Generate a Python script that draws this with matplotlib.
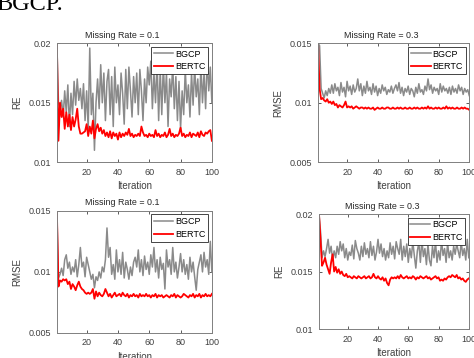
import numpy as np
import matplotlib.pyplot as plt
from matplotlib.ticker import FuncFormatter

plt.rcParams['font.family'] = ['Liberation Sans', 'DejaVu Sans']

iters = np.arange(1, 101)

# panel 1: RE, missing rate 0.1
bgcp_re_01 = [0.0200, 0.0150, 0.0145, 0.0152, 0.0138, 0.0160, 0.0142, 0.0165, 0.0130, 0.0158,
              0.0140, 0.0168, 0.0148, 0.0170, 0.0152, 0.0162, 0.0145, 0.0166, 0.0135, 0.0160,
              0.0128, 0.0196, 0.0140, 0.0158, 0.0110, 0.0150, 0.0170, 0.0145, 0.0182, 0.0150,
              0.0175, 0.0135, 0.0168, 0.0178, 0.0140, 0.0172, 0.0130, 0.0180, 0.0150, 0.0165,
              0.0140, 0.0175, 0.0158, 0.0132, 0.0178, 0.0145, 0.0180, 0.0160, 0.0138, 0.0172,
              0.0150, 0.0175, 0.0140, 0.0178, 0.0160, 0.0135, 0.0170, 0.0150, 0.0180, 0.0165,
              0.0185, 0.0145, 0.0175, 0.0150, 0.0185, 0.0135, 0.0178, 0.0140, 0.0182, 0.0150,
              0.0175, 0.0130, 0.0170, 0.0155, 0.0182, 0.0145, 0.0172, 0.0135, 0.0168, 0.0128,
              0.0160, 0.0140, 0.0178, 0.0150, 0.0165, 0.0138, 0.0175, 0.0148, 0.0180, 0.0155,
              0.0170, 0.0140, 0.0182, 0.0150, 0.0175, 0.0145, 0.0188, 0.0160, 0.0180, 0.0150]
bertc_re_01 = [0.0200, 0.0118, 0.0150, 0.0138, 0.0145, 0.0128, 0.0142, 0.0130, 0.0140, 0.0127,
               0.0138, 0.0130, 0.0136, 0.0145, 0.0130, 0.0124, 0.0124, 0.0125, 0.0126, 0.0132,
               0.0122, 0.0130, 0.0124, 0.0135, 0.0120, 0.0128, 0.0132, 0.0126, 0.0129, 0.0124,
               0.0127, 0.0122, 0.0125, 0.0121, 0.0126, 0.0120, 0.0125, 0.0122, 0.0124, 0.0119,
               0.0125, 0.0121, 0.0124, 0.0122, 0.0125, 0.0123, 0.0128, 0.0122, 0.0124, 0.0121,
               0.0123, 0.0122, 0.0124, 0.0122, 0.0130, 0.0125, 0.0122, 0.0123, 0.0121, 0.0124,
               0.0122, 0.0123, 0.0121, 0.0127, 0.0122, 0.0124, 0.0121, 0.0123, 0.0122, 0.0125,
               0.0121, 0.0123, 0.0128, 0.0122, 0.0124, 0.0121, 0.0123, 0.0122, 0.0124, 0.0129,
               0.0122, 0.0124, 0.0121, 0.0123, 0.0122, 0.0125, 0.0121, 0.0124, 0.0123, 0.0122,
               0.0125, 0.0121, 0.0126, 0.0123, 0.0122, 0.0125, 0.0124, 0.0126, 0.0127, 0.0118]

# panel 2: RMSE, missing rate 0.3
bgcp_rmse_03 = [0.0150, 0.0148, 0.0112, 0.0108, 0.0104, 0.0110, 0.0106, 0.0112, 0.0108, 0.0115,
                0.0108, 0.0116, 0.0110, 0.0113, 0.0106, 0.0117, 0.0109, 0.0113, 0.0105, 0.0118,
                0.0110, 0.0114, 0.0107, 0.0115, 0.0109, 0.0112, 0.0120, 0.0110, 0.0116, 0.0106,
                0.0114, 0.0108, 0.0118, 0.0110, 0.0113, 0.0107, 0.0116, 0.0109, 0.0114, 0.0106,
                0.0112, 0.0108, 0.0115, 0.0110, 0.0113, 0.0107, 0.0111, 0.0109, 0.0114, 0.0108,
                0.0112, 0.0115, 0.0110, 0.0117, 0.0108, 0.0113, 0.0106, 0.0112, 0.0109, 0.0114,
                0.0107, 0.0112, 0.0110, 0.0105, 0.0113, 0.0108, 0.0116, 0.0109, 0.0111, 0.0107,
                0.0114, 0.0110, 0.0120, 0.0111, 0.0115, 0.0108, 0.0113, 0.0110, 0.0112, 0.0107,
                0.0116, 0.0109, 0.0114, 0.0110, 0.0112, 0.0108, 0.0113, 0.0107, 0.0114, 0.0109,
                0.0112, 0.0108, 0.0115, 0.0110, 0.0113, 0.0107, 0.0112, 0.0109, 0.0111, 0.0106]
bertc_rmse_03 = [0.0150, 0.0112, 0.0103, 0.0104, 0.0102, 0.0101, 0.0103, 0.0100, 0.0101, 0.0099,
                 0.0101, 0.0098, 0.0099, 0.0096, 0.0098, 0.0097, 0.0096, 0.0098, 0.0101, 0.0096,
                 0.0097, 0.0096, 0.0097, 0.0095, 0.0096, 0.0097, 0.0096, 0.0095, 0.0096, 0.0096,
                 0.0095, 0.0096, 0.0095, 0.0096, 0.0095, 0.0095, 0.0096, 0.0094, 0.0095, 0.0096,
                 0.0095, 0.0095, 0.0096, 0.0095, 0.0095, 0.0096, 0.0096, 0.0095, 0.0095, 0.0096,
                 0.0095, 0.0095, 0.0096, 0.0095, 0.0096, 0.0095, 0.0095, 0.0096, 0.0095, 0.0095,
                 0.0096, 0.0095, 0.0095, 0.0096, 0.0095, 0.0096, 0.0095, 0.0095, 0.0096, 0.0095,
                 0.0096, 0.0095, 0.0097, 0.0095, 0.0096, 0.0095, 0.0095, 0.0096, 0.0095, 0.0096,
                 0.0095, 0.0095, 0.0096, 0.0095, 0.0097, 0.0095, 0.0096, 0.0095, 0.0096, 0.0095,
                 0.0095, 0.0096, 0.0095, 0.0095, 0.0096, 0.0095, 0.0096, 0.0095, 0.0095, 0.0094]

# panel 3: RMSE, missing rate 0.1
bgcp_rmse_01 = [0.0150, 0.0095, 0.0098, 0.0103, 0.0097, 0.0110, 0.0114, 0.0103, 0.0108, 0.0098,
                0.0104, 0.0100, 0.0110, 0.0096, 0.0106, 0.0120, 0.0104, 0.0108, 0.0096, 0.0112,
                0.0106, 0.0100, 0.0094, 0.0098, 0.0087, 0.0096, 0.0093, 0.0100, 0.0095, 0.0104,
                0.0100, 0.0110, 0.0136, 0.0112, 0.0120, 0.0098, 0.0106, 0.0094, 0.0118, 0.0100,
                0.0110, 0.0098, 0.0116, 0.0095, 0.0108, 0.0102, 0.0094, 0.0104, 0.0097, 0.0108,
                0.0112, 0.0104, 0.0118, 0.0100, 0.0110, 0.0097, 0.0113, 0.0102, 0.0108, 0.0098,
                0.0114, 0.0104, 0.0120, 0.0100, 0.0110, 0.0095, 0.0112, 0.0102, 0.0107, 0.0086,
                0.0118, 0.0104, 0.0110, 0.0098, 0.0120, 0.0100, 0.0108, 0.0095, 0.0104, 0.0115,
                0.0100, 0.0110, 0.0098, 0.0106, 0.0094, 0.0112, 0.0100, 0.0108, 0.0096, 0.0085,
                0.0102, 0.0108, 0.0114, 0.0100, 0.0116, 0.0104, 0.0110, 0.0098, 0.0125, 0.0100]
bertc_rmse_01 = [0.0150, 0.0088, 0.0093, 0.0092, 0.0094, 0.0093, 0.0094, 0.0090, 0.0092, 0.0086,
                 0.0090, 0.0088, 0.0085, 0.0089, 0.0092, 0.0088, 0.0086, 0.0085, 0.0083, 0.0082,
                 0.0083, 0.0082, 0.0083, 0.0086, 0.0078, 0.0084, 0.0080, 0.0083, 0.0081, 0.0080,
                 0.0082, 0.0086, 0.0083, 0.0080, 0.0082, 0.0079, 0.0081, 0.0083, 0.0080, 0.0081,
                 0.0082, 0.0080, 0.0083, 0.0081, 0.0080, 0.0082, 0.0079, 0.0081, 0.0080, 0.0082,
                 0.0080, 0.0081, 0.0079, 0.0082, 0.0080, 0.0081, 0.0080, 0.0082, 0.0080, 0.0081,
                 0.0079, 0.0081, 0.0080, 0.0082, 0.0079, 0.0081, 0.0080, 0.0081, 0.0079, 0.0080,
                 0.0081, 0.0080, 0.0079, 0.0081, 0.0080, 0.0082, 0.0079, 0.0081, 0.0080, 0.0079,
                 0.0080, 0.0082, 0.0081, 0.0080, 0.0079, 0.0081, 0.0080, 0.0082, 0.0079, 0.0081,
                 0.0080, 0.0082, 0.0079, 0.0081, 0.0080, 0.0082, 0.0080, 0.0081, 0.0080, 0.0082]

# panel 4: RE, missing rate 0.3
bgcp_re_03 = [0.0200, 0.0185, 0.0162, 0.0168, 0.0163, 0.0170, 0.0178, 0.0166, 0.0172, 0.0160,
              0.0168, 0.0162, 0.0172, 0.0165, 0.0176, 0.0168, 0.0174, 0.0162, 0.0170, 0.0160,
              0.0167, 0.0164, 0.0173, 0.0161, 0.0177, 0.0170, 0.0166, 0.0160, 0.0172, 0.0163,
              0.0175, 0.0165, 0.0170, 0.0162, 0.0176, 0.0164, 0.0172, 0.0160, 0.0167, 0.0178,
              0.0166, 0.0174, 0.0163, 0.0170, 0.0160, 0.0168, 0.0162, 0.0175, 0.0165, 0.0172,
              0.0161, 0.0176, 0.0170, 0.0165, 0.0178, 0.0160, 0.0172, 0.0163, 0.0174, 0.0158,
              0.0170, 0.0162, 0.0176, 0.0164, 0.0153, 0.0168, 0.0175, 0.0158, 0.0178, 0.0163,
              0.0170, 0.0156, 0.0174, 0.0160, 0.0155, 0.0172, 0.0162, 0.0176, 0.0158, 0.0168,
              0.0160, 0.0177, 0.0164, 0.0170, 0.0158, 0.0175, 0.0162, 0.0168, 0.0160, 0.0172,
              0.0165, 0.0174, 0.0168, 0.0162, 0.0176, 0.0164, 0.0170, 0.0160, 0.0178, 0.0162]
bertc_re_03 = [0.0200, 0.0178, 0.0155, 0.0158, 0.0162, 0.0156, 0.0152, 0.0148, 0.0158, 0.0165,
               0.0150, 0.0154, 0.0149, 0.0152, 0.0148, 0.0150, 0.0147, 0.0146, 0.0148, 0.0145,
               0.0146, 0.0145, 0.0144, 0.0146, 0.0145, 0.0144, 0.0146, 0.0145, 0.0144, 0.0145,
               0.0146, 0.0144, 0.0145, 0.0146, 0.0144, 0.0145, 0.0148, 0.0145, 0.0144, 0.0146,
               0.0144, 0.0143, 0.0145, 0.0142, 0.0144, 0.0140, 0.0138, 0.0143, 0.0145, 0.0144,
               0.0145, 0.0144, 0.0146, 0.0144, 0.0147, 0.0145, 0.0144, 0.0145, 0.0146, 0.0144,
               0.0145, 0.0144, 0.0146, 0.0145, 0.0143, 0.0145, 0.0144, 0.0146, 0.0145, 0.0144,
               0.0145, 0.0146, 0.0144, 0.0145, 0.0143, 0.0144, 0.0145, 0.0146, 0.0144, 0.0145,
               0.0142, 0.0143, 0.0142, 0.0144, 0.0143, 0.0145, 0.0146, 0.0145, 0.0147, 0.0146,
               0.0145, 0.0147, 0.0144, 0.0145, 0.0143, 0.0144, 0.0142, 0.0141, 0.0143, 0.0144]

panels = [
    # (position, title, ylabel, ylim, yticks, bgcp, bertc)
    ([0.120, 0.547, 0.327, 0.332], 'Missing Rate = 0.1', 'RE', (0.01, 0.02), [0.01, 0.015, 0.02], bgcp_re_01, bertc_re_01),
    ([0.671, 0.547, 0.319, 0.332], 'Missing Rate = 0.3', 'RMSE', (0.005, 0.015), [0.005, 0.01, 0.015], bgcp_rmse_03, bertc_rmse_03),
    ([0.120, 0.070, 0.327, 0.341], 'Missing Rate = 0.1', 'RMSE', (0.005, 0.015), [0.005, 0.01, 0.015], bgcp_rmse_01, bertc_rmse_01),
    ([0.673, 0.081, 0.316, 0.321], 'Missing Rate = 0.3', 'RE', (0.01, 0.02), [0.01, 0.015, 0.02], bgcp_re_03, bertc_re_03),
]

fig = plt.figure(figsize=(4.74, 3.58), dpi=100)

for pos, title, ylab, ylim, yt, bg, be in panels:
    ax = fig.add_axes(pos)
    ax.plot(iters, bg, color='#8a8a8a', lw=1.1, label='BGCP')
    ax.plot(iters, be, color='#ff0000', lw=1.3, label='BERTC')
    ax.set_xlim(1, 100)
    ax.set_ylim(*ylim)
    ax.set_xticks([20, 40, 60, 80, 100])
    ax.set_yticks(yt)
    ax.yaxis.set_major_formatter(FuncFormatter(lambda v, p: '%g' % v))
    ax.tick_params(direction='in', length=2.5, width=0.6, labelsize=6.5,
                   colors='#404040', top=True, right=True, pad=4)
    for s in ax.spines.values():
        s.set_color('#808080')
        s.set_linewidth(0.7)
    ax.set_title(title, fontsize=6.4, color='#262626', pad=4, x=0.42)
    ax.set_xlabel('Iteration', fontsize=7, color='#404040', labelpad=3)
    ax.set_ylabel(ylab, fontsize=7, color='#404040', labelpad=5)
    leg = ax.legend(loc='upper right', fontsize=6.5, frameon=True, fancybox=False,
                    edgecolor='#262626', framealpha=1, handlelength=2.2,
                    borderaxespad=0.4, borderpad=0.3, labelspacing=0.4, handletextpad=0.2)
    leg.get_frame().set_linewidth(0.6)

# piece of the paper text above the figure, cut by the top edge
fig.text(-0.008, 0.973, 'BGCP.', fontsize=17.5, family='Liberation Serif', ha='left', va='baseline')

fig.savefig('out.png', dpi=100)
